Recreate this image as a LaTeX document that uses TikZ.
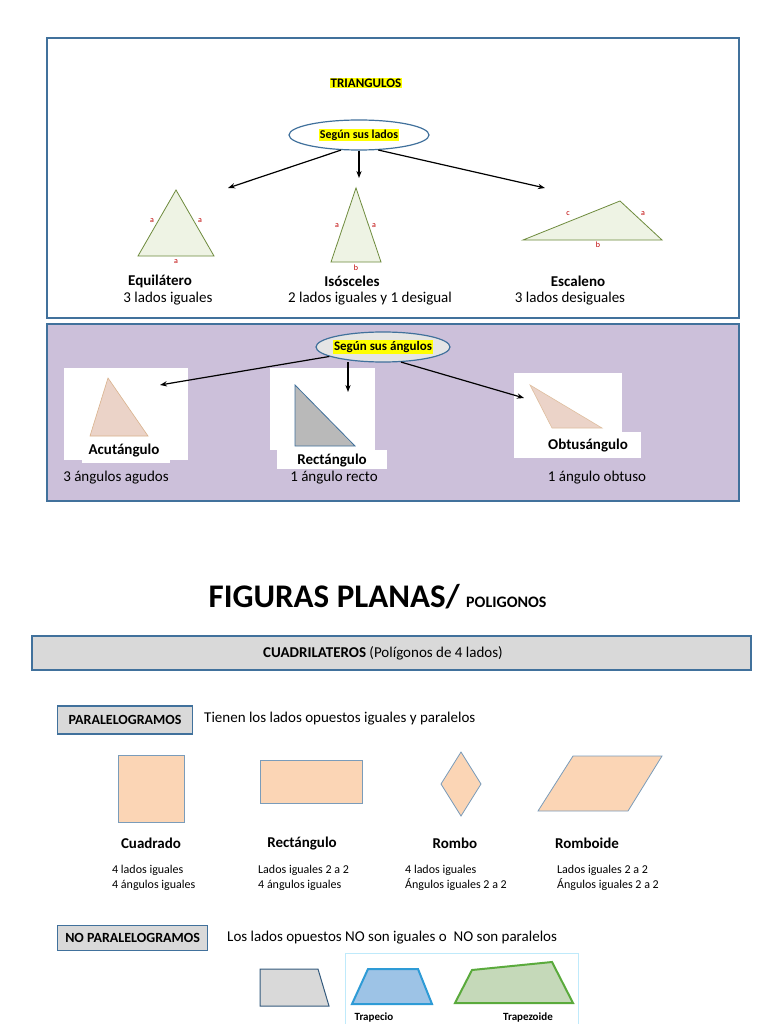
\documentclass[tikz,border=0pt]{standalone}
\usepackage{fontspec}
\setmainfont{Carlito}
\usetikzlibrary{arrows.meta}
\definecolor{boxblue}{HTML}{41719C}
\definecolor{lila}{HTML}{CCC0DA}
\definecolor{peach}{HTML}{FBD5B5}
\definecolor{trifill}{HTML}{EEF3E4}
\definecolor{triline}{HTML}{6E8B3D}
\definecolor{acute}{HTML}{EBD3C8}
\definecolor{hl}{HTML}{FFFF00}
\definecolor{trapblue}{HTML}{9DC3E6}
\definecolor{trapline}{HTML}{2E9BD6}
\definecolor{trapgreen}{HTML}{C5D9B9}
\definecolor{greenline}{HTML}{5AAA3C}
\tikzset{
    frame/.style={draw=boxblue,line width=1.2pt},
    hilite/.style={fill=hl,inner sep=1pt,font=\bfseries\fontsize{13}{14}\selectfont},
    oval/.style={ellipse,draw=boxblue,line width=1.2pt,minimum width=#1,minimum height=30pt},
    edge/.style={-{Stealth[length=7pt]},line width=1.2pt},
    lbl/.style={font=\bfseries\fontsize{15}{16}\selectfont,inner sep=0pt},
    txt/.style={font=\fontsize{15}{16}\selectfont,inner sep=0pt},
    small/.style={font=\fontsize{12}{15}\selectfont,inner sep=0pt,align=left,anchor=north west},
    side/.style={text=red!75!black,font=\fontsize{8}{8}\selectfont,inner sep=1pt},
    tag/.style={draw=boxblue,line width=1.2pt,fill=gray!30,font=\bfseries\fontsize{14}{15}\selectfont,inner sep=4pt,anchor=west},
    quad/.style={fill=peach,draw=boxblue!70,line width=0.8pt},
    whitebox/.style={fill=white,draw=none}
}
\usetikzlibrary{shapes.geometric}
\begin{document}
\begin{tikzpicture}[x=1pt,y=-1pt]
\useasboundingbox (0,0) rectangle (768,1024);
% triangulos segun lados
\draw[frame,fill=white] (47,38) rectangle (739,318);
\node[hilite] (tri) at (366,83) {TRIANGULOS};
\node[oval=140pt,fill=white] (lados) at (359,135) {};
\node[hilite,font=\bfseries\fontsize{12}{13}\selectfont] at (lados) {Según sus lados};
\coordinate (e1) at (228,188);
\coordinate (e2) at (359,178);
\coordinate (e3) at (545,188);
\draw[edge] (lados.220) -- (e1);
\draw[edge] (lados.south) -- (e2);
\draw[edge] (lados.-38) -- (e3);
\draw[fill=trifill,draw=triline,line width=0.8pt] (138,256) -- (214,256) -- (176,190) -- cycle;
\node[side] at (152,221) {a}; \node[side] at (200,221) {a}; \node[side] at (176,262) {a};
\draw[fill=trifill,draw=triline,line width=0.8pt] (331,262) -- (381,262) -- (356,188) -- cycle;
\node[side] at (337,226) {a}; \node[side] at (374,226) {a}; \node[side] at (356,268) {b};
\draw[fill=trifill,draw=triline,line width=0.8pt] (523,240) -- (662,240) -- (620,201) -- cycle;
\node[side] at (568,214) {c}; \node[side] at (643,214) {a}; \node[side] at (598,245) {b};
\node[lbl] (equi) at (160,281) {Equilátero};
\node[txt] at (168,299) {3 lados iguales};
\node[lbl] (isos) at (352,281) {Isósceles};
\node[txt] at (370,299) {2 lados iguales y 1 desigual};
\node[lbl] (esca) at (578,281) {Escaleno};
\node[txt] at (570,299) {3 lados desiguales};
% triangulos segun angulos
\draw[frame,fill=lila] (47,324) rectangle (739,501);
\node[oval=134pt,fill=gray!20] (angulos) at (383,347) {};
\node[hilite] at (angulos) {Según sus ángulos};
\fill[whitebox] (64,368) rectangle (188,460);
\fill[whitebox] (270,368) rectangle (375,450);
\fill[whitebox] (514,373) rectangle (622,458);
\draw[fill=acute,draw=brown!60,line width=0.6pt] (90,436) -- (148,436) -- (108,378) -- cycle;
\draw[fill=gray!55,draw=boxblue,line width=0.8pt] (295,446) -- (355,446) -- (295,385) -- cycle;
\draw[fill=acute,draw=brown!50,line width=0.6pt] (530,385) -- (602,428) -- (552,428) -- cycle;
\fill[whitebox] (82,440) rectangle (170,463);
\fill[whitebox] (277,450) rectangle (387,469);
\fill[whitebox] (541,432) rectangle (641,458);
\node[lbl] (acut) at (124,451) {Acutángulo};
\node[lbl] (rect) at (332,461) {Rectángulo};
\node[lbl] (obtu) at (588,446) {Obtusángulo};
\coordinate (s2) at (348,362);
\coordinate (f1) at (160,385);
\coordinate (f2) at (348,392);
\coordinate (f3) at (524,398);
\draw[edge] (angulos.190) -- (f1);
\draw[edge] (s2) -- (f2);
\draw[edge] (angulos.-40) -- (f3);
\node[txt] at (116,478) {3 ángulos agudos};
\node[txt] at (334,478) {1 ángulo recto};
\node[txt] at (597,478) {1 ángulo obtuso};
% figuras planas
\node[font=\bfseries\fontsize{33}{35}\selectfont,inner sep=0pt,anchor=base east] (fig) at (460,607) {FIGURAS PLANAS/};
\node[font=\bfseries\fontsize{16}{16}\selectfont,inner sep=0pt,anchor=base west] at ([xshift=6pt]fig.base east) {POLIGONOS};
\draw[frame,fill=gray!30] (32,636) rectangle (751,670);
\node[txt] (cuad) at (383,653) {\textbf{CUADRILATEROS} (Polígonos de 4 lados)};
% paralelogramos
\node[tag,minimum width=135pt,minimum height=28pt] (para) at (57,720) {PARALELOGRAMOS};
\node[txt,anchor=west] at (204,719) {Tienen los lados opuestos iguales y paralelos};
\draw[quad] (118,755) rectangle (184,822);
\draw[quad] (260,760) rectangle (362,803);
\draw[quad] (461,752) -- (481,784) -- (461,816) -- (441,784) -- cycle;
\draw[quad] (538,811) -- (573,756) -- (662,756) -- (628,811) -- cycle;
\node[lbl] at (151,843) {Cuadrado};
\node[lbl] at (302,843) {Rectángulo};
\node[lbl] at (455,843) {Rombo};
\node[lbl] at (587,843) {Romboide};
\node[small] at (112,865) {4 lados iguales\\4 ángulos iguales};
\node[small] at (258,865) {Lados iguales 2 a 2\\4 ángulos iguales};
\node[small] at (405,865) {4 lados iguales\\Ángulos iguales 2 a 2};
\node[small] at (557,865) {Lados iguales 2 a 2\\Ángulos iguales 2 a 2};
% no paralelogramos
\node[tag,minimum width=150pt,minimum height=25pt] (nopara) at (57,938) {NO PARALELOGRAMOS};
\node[txt,anchor=west] at (227,938) {Los lados opuestos NO son iguales o\ \ NO son paralelos};
\draw[fill=gray!30,draw=boxblue!80!black,line width=1pt] (260,1006) -- (260,969) -- (318,969) -- (329,1006) -- cycle;
\draw[draw=cyan!25,fill=white] (345,1024) -- (345,953) -- (578,953) -- (578,1024);
\draw[fill=trapblue,draw=trapline,line width=2pt] (352,1004) -- (368,969) -- (418,969) -- (432,1004) -- cycle;
\draw[fill=trapgreen,draw=greenline,line width=2pt] (455,1003) -- (472,970) -- (552,962) -- (573,1003) -- cycle;
\node[lbl,font=\bfseries\fontsize{11}{12}\selectfont] at (374,1017) {Trapecio};
\node[lbl,font=\bfseries\fontsize{11}{12}\selectfont] at (528,1017) {Trapezoide};
\end{tikzpicture}
\end{document}
